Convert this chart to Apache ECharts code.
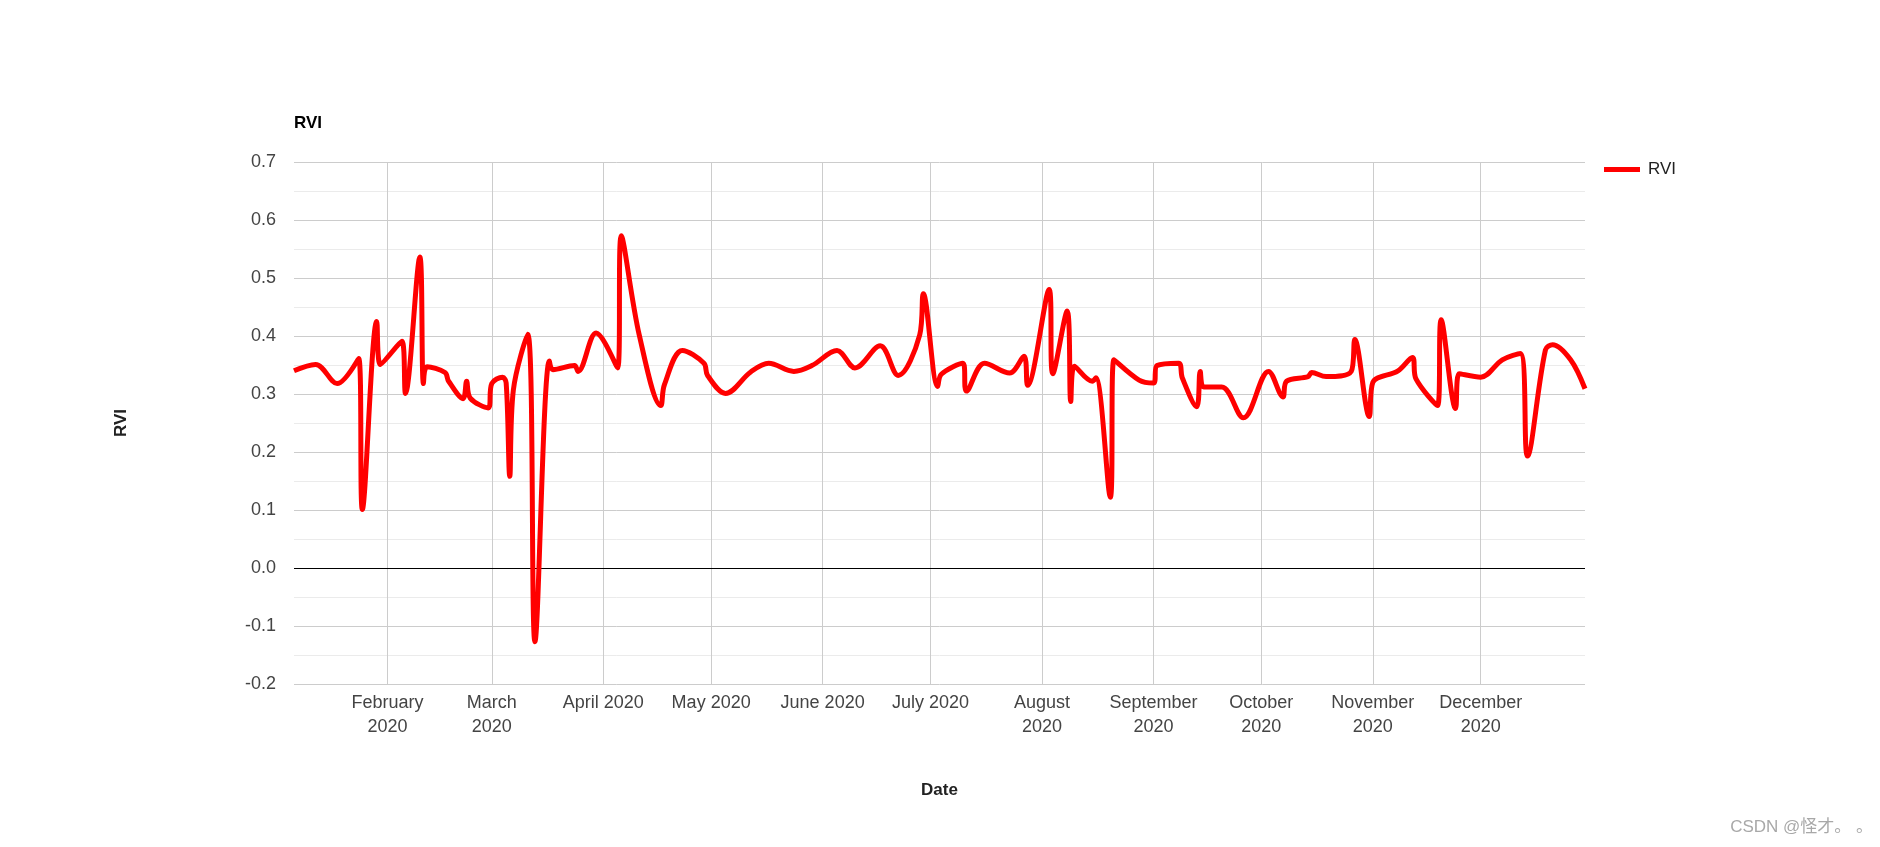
<!DOCTYPE html>
<html>
<head>
<meta charset="utf-8">
<script src="https://cdn.jsdelivr.net/npm/echarts@6/dist/echarts.min.js"></script>
<style>
html,body{margin:0;padding:0;background:#fff;}
#chart{width:1880px;height:847px;}
</style>
</head>
<body>
<div id="chart"></div>
<script>
const dates = [
'2020-01-06','2020-01-12','2020-01-18','2020-01-24','2020-01-25','2020-01-29','2020-01-30',
'2020-02-05','2020-02-06','2020-02-10','2020-02-11','2020-02-12','2020-02-17','2020-02-18',
'2020-02-22','2020-02-23','2020-02-24','2020-02-29','2020-03-01','2020-03-04','2020-03-05',
'2020-03-06','2020-03-07','2020-03-11','2020-03-13','2020-03-17','2020-03-18','2020-03-24',
'2020-03-25','2020-03-30','2020-04-05','2020-04-06','2020-04-11','2020-04-17','2020-04-18',
'2020-04-23','2020-04-29','2020-04-30','2020-05-05','2020-05-12','2020-05-17','2020-05-24',
'2020-05-29','2020-06-05','2020-06-10','2020-06-17','2020-06-22','2020-06-28','2020-06-29',
'2020-07-03','2020-07-04','2020-07-10','2020-07-11','2020-07-16','2020-07-23','2020-07-27',
'2020-07-28','2020-08-03','2020-08-04','2020-08-08','2020-08-09','2020-08-10','2020-08-15',
'2020-08-16','2020-08-20','2020-08-21','2020-08-28','2020-09-01','2020-09-02','2020-09-08',
'2020-09-09','2020-09-13','2020-09-14','2020-09-15','2020-09-20','2020-09-26','2020-10-03',
'2020-10-07','2020-10-08','2020-10-14','2020-10-15','2020-10-19','2020-10-26','2020-10-27',
'2020-10-31','2020-11-01','2020-11-08','2020-11-12','2020-11-13','2020-11-19','2020-11-20',
'2020-11-24','2020-11-25','2020-12-01','2020-12-07','2020-12-12','2020-12-14','2020-12-19',
'2020-12-21','2020-12-26','2020-12-30'
];
const rviValues = [
0.340,0.351,0.318,0.361,0.101,0.425,0.351,
0.391,0.301,0.536,0.318,0.347,0.337,0.322,
0.292,0.322,0.293,0.276,0.318,0.329,0.319,
0.158,0.307,0.403,-0.127,0.357,0.342,0.349,
0.339,0.405,0.345,0.573,0.402,0.280,0.316,
0.375,0.353,0.332,0.301,0.338,0.353,0.339,
0.349,0.375,0.345,0.383,0.332,0.402,0.473,
0.313,0.334,0.353,0.305,0.353,0.336,0.365,
0.315,0.480,0.335,0.443,0.287,0.348,0.322,
0.328,0.122,0.359,0.324,0.319,0.349,0.353,
0.328,0.278,0.339,0.312,0.312,0.259,0.339,
0.295,0.322,0.330,0.337,0.330,0.339,0.394,
0.261,0.320,0.340,0.363,0.326,0.280,0.428,
0.275,0.335,0.329,0.359,0.370,0.193,0.376,
0.385,0.359,0.309
];
const monthTicks = ['2020-02-01','2020-03-01','2020-04-01','2020-05-01','2020-06-01','2020-07-01',
'2020-08-01','2020-09-01','2020-10-01','2020-11-01','2020-12-01'];
const monthLabels = ['February\n2020','March\n2020','April 2020','May 2020','June 2020','July 2020',
'August\n2020','September\n2020','October\n2020','November\n2020','December\n2020'];
const yTicks = {min: -0.2, max: 0.7, interval: 0.1};

function ts(s){ const p = s.split('-'); return Date.UTC(+p[0], +p[1]-1, +p[2]); }
const tickTs = monthTicks.map(ts);
const seriesData = dates.map((d,i)=>[ts(d), rviValues[i]]);

const FONT = "Arial, 'Liberation Sans', sans-serif";
const chart = echarts.init(document.getElementById('chart'), null, {renderer:'canvas'});
const gridLines = tickTs.map(t => ({xAxis: t, lineStyle: {color: '#cccccc', width: 1, type: 'solid'}}));
gridLines.push({yAxis: 0, lineStyle: {color: '#000000', width: 1.2, type: 'solid', opacity: 1}});
chart.setOption({
  animation: false,
  backgroundColor: '#fff',
  textStyle: {fontFamily: FONT},
  title: {
    text: 'RVI', left: 289, top: 110,
    textStyle: {fontFamily: FONT, fontSize: 17, fontWeight: 'bold', color: '#000'}
  },
  legend: {
    data: ['RVI'], left: 1599, top: 156, icon: 'rect', itemWidth: 36, itemHeight: 5,
    textStyle: {fontFamily: FONT, fontSize: 17, color: '#222', padding: [0,0,0,3]}
  },
  grid: {left: 294, right: 295, top: 162, bottom: 163, containLabel: false},
  xAxis: {
    type: 'value',
    min: ts(dates[0]), max: ts(dates[dates.length-1]),
    name: 'Date', nameLocation: 'middle', nameGap: 98,
    nameTextStyle: {fontFamily: FONT, fontSize: 17, fontWeight: 'bold', color: '#222'},
    axisLine: {show: false},
    axisTick: {show: false, customValues: tickTs},
    splitLine: {show: false},
    axisLabel: {
      customValues: tickTs,
      margin: 7, fontFamily: FONT, fontSize: 18, color: '#444', lineHeight: 24,
      hideOverlap: false,
      formatter: function (v) {
        let best = -1, bd = Infinity;
        tickTs.forEach((t, i) => { const dd = Math.abs(t - v); if (dd < bd) { bd = dd; best = i; } });
        return (best >= 0 && bd < 43200000) ? monthLabels[best] : '';
      }
    }
  },
  yAxis: {
    type: 'value', min: yTicks.min, max: yTicks.max, interval: yTicks.interval,
    name: 'RVI', nameLocation: 'middle', nameGap: 164, nameRotate: 90,
    nameTextStyle: {fontFamily: FONT, fontSize: 17, fontWeight: 'bold', color: '#222'},
    axisLine: {show: false}, axisTick: {show: false},
    axisLabel: {margin: 18, fontFamily: FONT, fontSize: 18, color: '#444',
      formatter: v => (Math.round(v*10)/10).toFixed(1)},
    splitLine: {show: true, lineStyle: {color: '#cccccc', width: 1}},
    minorTick: {show: false, splitNumber: 2},
    minorSplitLine: {show: true, lineStyle: {color: '#ebebeb', width: 1}}
  },
  series: [{
    name: 'RVI', type: 'line', data: seriesData,
    smooth: 0.35, showSymbol: false, symbol: 'none', z: 3,
    lineStyle: {color: '#ff0000', width: 5},
    itemStyle: {color: '#ff0000'},
    markLine: {
      silent: true, symbol: 'none', z: 1, animation: false,
      label: {show: false},
      emphasis: {disabled: true},
      data: gridLines
    }
  }],
  graphic: [{
    type: 'text', right: 7, top: 819,
    style: {text: 'CSDN @怪才。 。', fontSize: 17, fill: '#a8a8a8',
      fontFamily: "Arial, 'Noto Sans CJK SC', sans-serif"}
  }]
});
</script>
</body>
</html>
